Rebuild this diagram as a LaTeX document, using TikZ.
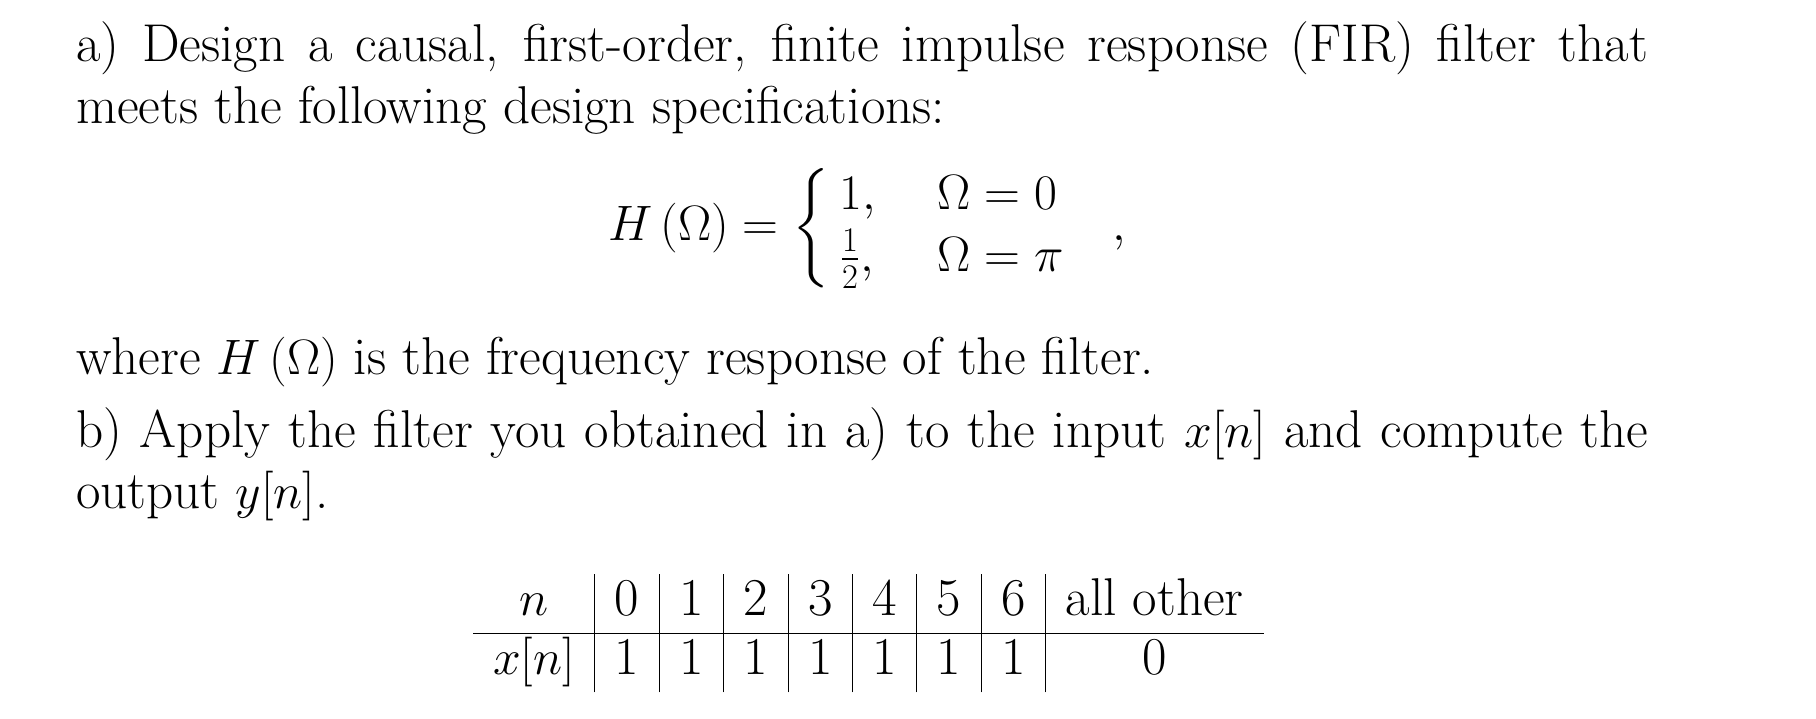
\documentclass[tikz,border=0pt]{standalone}
\usepackage{amsmath}
\usetikzlibrary{positioning}
\tikzset{
	para/.style={anchor=base west, text width=786pt, align=justify, inner sep=0pt,
		font=\fontsize{26.6}{30.9}\selectfont},
	plain/.style={inner sep=0pt, font=\fontsize{26.6}{30.9}\selectfont}
}
\begin{document}
\begin{tikzpicture}[x=0.582pt,y=-0.582pt]
	\useasboundingbox (0,0) rectangle (1560,617);
	% part a
	\node[para] (parta) at (65,53) {a) Design a causal, first-order, finite impulse response (FIR) filter that meets the following design specifications:\par};
	\node[plain, anchor=west] (spec) at (522,196) {$H\left(\Omega\right)=\left\{\begin{array}{ll}1, & \;\;\;\Omega=0\\[0pt] \frac{1}{2}, & \;\;\;\Omega=\pi\end{array}\right.\;\;,$};
	\node[para] (where) at (65,322) {where $H\left(\Omega\right)$ is the frequency response of the filter.\par};
	% part b
	\node[para] (partb) at (65,384) {b) Apply the filter you obtained in a) to the input $x[n]$ and compute the output $y[n]$.\par};
	% table
	\node[plain] (tab) at (746,544) {\renewcommand{\arraystretch}{0.95}\setlength{\tabcolsep}{10pt}%
		\begin{tabular}{c|c|c|c|c|c|c|c|c}
		$n$ & 0 & 1 & 2 & 3 & 4 & 5 & 6 & all other\\ \hline
		$x[n]$ & 1 & 1 & 1 & 1 & 1 & 1 & 1 & 0
		\end{tabular}};
\end{tikzpicture}
\end{document}
